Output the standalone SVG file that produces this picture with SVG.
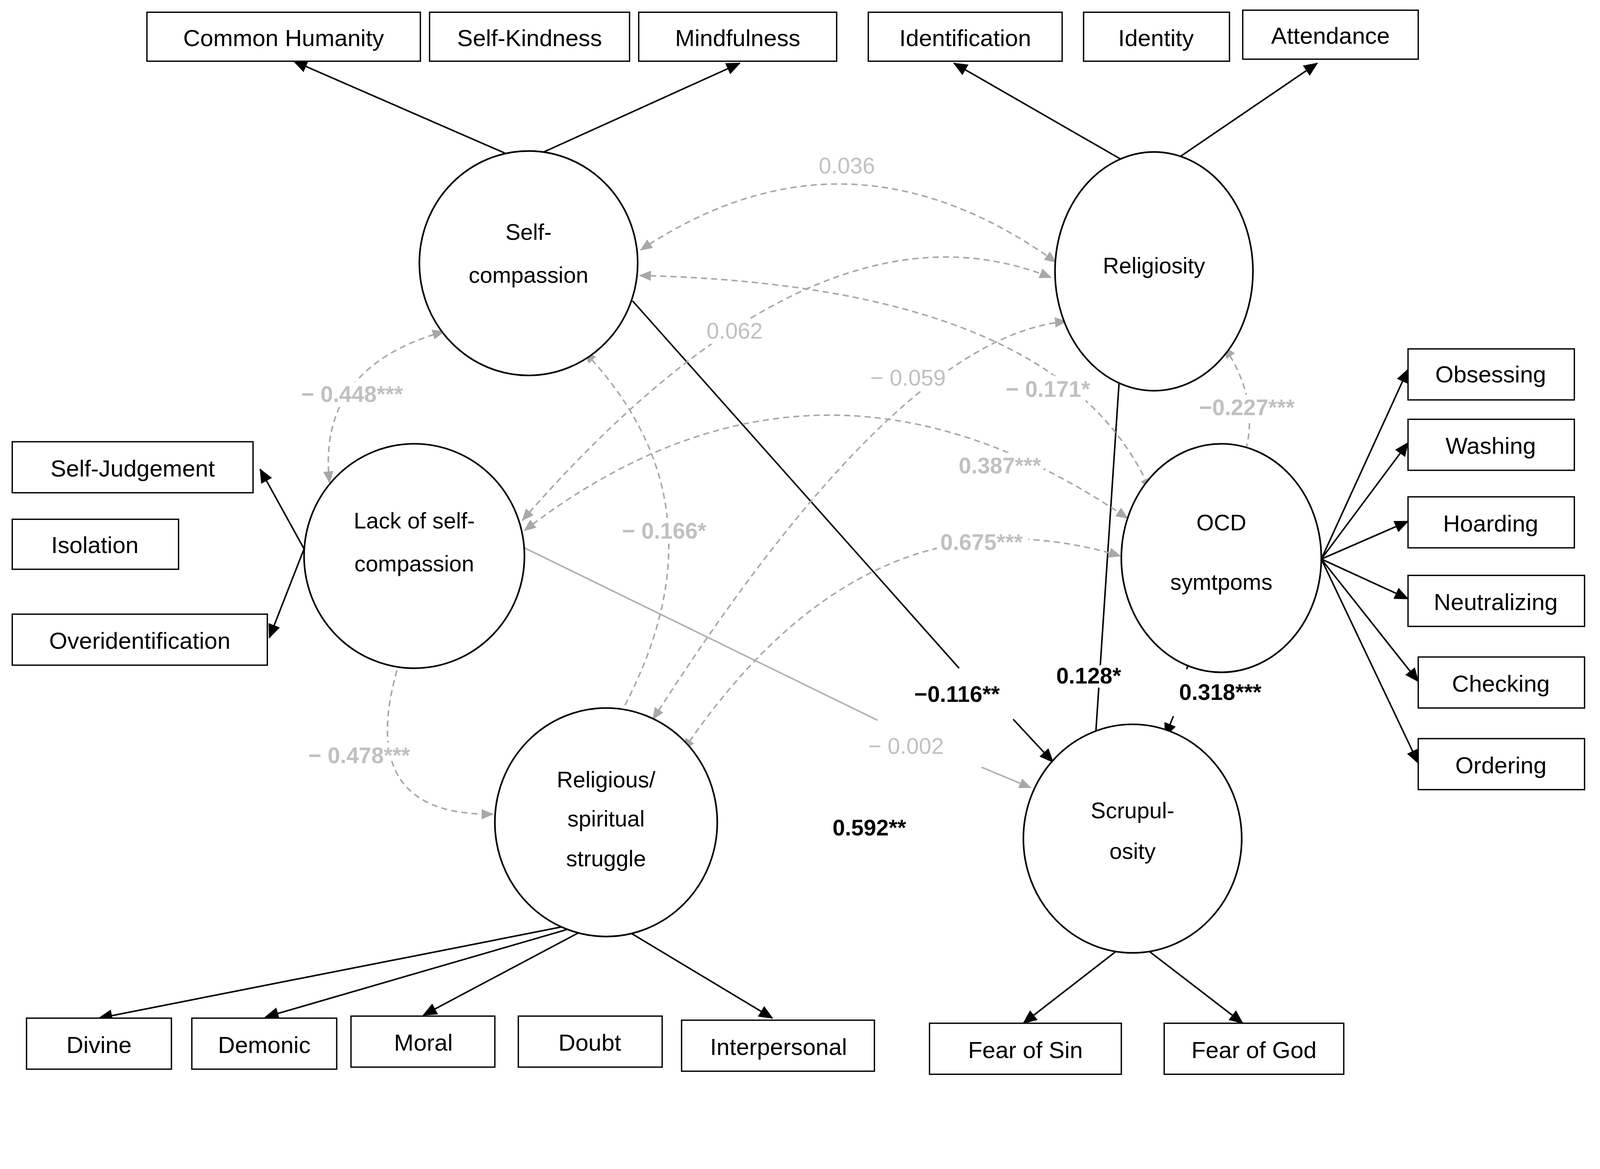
<svg xmlns="http://www.w3.org/2000/svg" width="4415" height="2993" viewBox="0 0 4415 2993">
<style>
.box{fill:#fff;stroke:#000;stroke-width:1.3}
.ell{fill:#fff;stroke:#000;stroke-width:1.6}
.bt{font-family:"Liberation Sans",Arial,sans-serif;font-size:23px;fill:#000;text-anchor:middle}
.et{font-family:"Liberation Sans",Arial,sans-serif;font-size:22px;fill:#000;text-anchor:middle}
.sol{fill:none;stroke:#000;stroke-width:1.5}
.gsol{fill:none;stroke:#b0b0b0;stroke-width:1.5}
.dash{fill:none;stroke:#a8a8a8;stroke-width:1.5;stroke-dasharray:6 4}
.lg{font-family:"Liberation Sans",Arial,sans-serif;font-size:22px;fill:#c0c0c0;text-anchor:middle;stroke:#fff;stroke-width:10;paint-order:stroke}
.lgb{font-weight:bold}
.lk{font-family:"Liberation Sans",Arial,sans-serif;font-size:22px;font-weight:bold;fill:#000;text-anchor:middle;stroke:#fff;stroke-width:8;paint-order:stroke}
</style>
<defs>
<marker id="ab" markerUnits="userSpaceOnUse" markerWidth="14" markerHeight="12" refX="13" refY="6" orient="auto-start-reverse"><path d="M0,0 L14,6 L0,12 z" fill="#000"/></marker>
<marker id="ag" markerUnits="userSpaceOnUse" markerWidth="12" markerHeight="10" refX="11" refY="5" orient="auto-start-reverse"><path d="M0,0 L12,5 L0,10 z" fill="#a8a8a8"/></marker>
</defs>
<rect width="4415" height="2993" fill="#fff"/>
<g transform="scale(2.612)">
<g id="connectors">
<path class="sol" marker-end="url(#ab)" d="M513,158 L288,60"/>
<path class="sol" marker-end="url(#ab)" d="M513,158 L725,62"/>
<path class="sol" marker-end="url(#ab)" d="M1128,173 L935,62"/>
<path class="sol" marker-end="url(#ab)" d="M1128,173 L1291,62"/>
<path class="sol" marker-end="url(#ab)" d="M298,538 L255,460"/>
<path class="sol" marker-end="url(#ab)" d="M298,538 L264,625"/>
<path class="sol" marker-end="url(#ab)" d="M1295,548 L1380,362"/>
<path class="sol" marker-end="url(#ab)" d="M1295,548 L1380,434"/>
<path class="sol" marker-end="url(#ab)" d="M1295,548 L1380,511"/>
<path class="sol" marker-end="url(#ab)" d="M1295,548 L1380,587"/>
<path class="sol" marker-end="url(#ab)" d="M1295,548 L1390,668"/>
<path class="sol" marker-end="url(#ab)" d="M1295,548 L1390,748"/>
<path class="sol" marker-end="url(#ab)" d="M594,900 L97,998"/>
<path class="sol" marker-end="url(#ab)" d="M594,900 L260,997"/>
<path class="sol" marker-end="url(#ab)" d="M594,900 L415,995"/>
<path class="sol" marker-end="url(#ab)" d="M594,900 L757,998"/>
<path class="sol" marker-end="url(#ab)" d="M1110,920 L1003,1003"/>
<path class="sol" marker-end="url(#ab)" d="M1110,920 L1218,1003"/>
<path class="sol" d="M620,295 L940,655"/>
<path class="sol" marker-end="url(#ab)" d="M993,705 L1032,747"/>
<path class="sol" marker-end="url(#ab)" d="M1098,357 L1073,733"/>
<path class="sol" d="M1169,638 L1163,656"/>
<path class="sol" marker-end="url(#ab)" d="M1150,702 L1142,722"/>
<path class="gsol" d="M514,537 L860,706"/>
<path class="gsol" marker-end="url(#ag)" d="M962,752 L1010,772"/>
<path class="dash" marker-start="url(#ag)" marker-end="url(#ag)" d="M628,245 Q830,110 1035,257"/>
<path class="dash" marker-start="url(#ag)" marker-end="url(#ag)" d="M627,270 Q1040,280 1127,480"/>
<path class="dash" marker-start="url(#ag)" marker-end="url(#ag)" d="M512,510 Q800,180 1030,272"/>
<path class="dash" marker-start="url(#ag)" marker-end="url(#ag)" d="M640,705 Q880,330 1045,315"/>
<path class="dash" marker-start="url(#ag)" marker-end="url(#ag)" d="M573,345 Q720,500 605,705"/>
<path class="dash" marker-start="url(#ag)" marker-end="url(#ag)" d="M514,520 Q800,300 1105,508"/>
<path class="dash" marker-start="url(#ag)" marker-end="url(#ag)" d="M670,735 Q850,470 1098,545"/>
<path class="dash" marker-start="url(#ag)" marker-end="url(#ag)" d="M435,325 Q310,360 323,473"/>
<path class="dash" marker-start="url(#ag)" marker-end="url(#ag)" d="M395,638 Q340,800 483,798"/>
<path class="dash" marker-start="url(#ag)" marker-end="url(#ag)" d="M1200,340 Q1240,400 1215,458"/>
</g>
<g id="labels">
<text class="lg" x="830" y="170">0.036</text>
<text class="lg" x="720" y="332">0.062</text>
<text class="lg" x="890" y="378">− 0.059</text>
<text class="lg lgb" x="1027" y="389">− 0.171*</text>
<text class="lg lgb" x="1222" y="407">−0.227***</text>
<text class="lg lgb" x="345" y="394">− 0.448***</text>
<text class="lg lgb" x="980" y="464">0.387***</text>
<text class="lg lgb" x="651" y="528">− 0.166*</text>
<text class="lg lgb" x="962" y="539">0.675***</text>
<text class="lg lgb" x="352" y="748">− 0.478***</text>
<text class="lg" x="888" y="739">− 0.002</text>
<text class="lk" x="938" y="688">−0.116**</text>
<text class="lk" x="1067" y="670">0.128*</text>
<text class="lk" x="1196" y="686">0.318***</text>
<text class="lk" x="852" y="819">0.592**</text>
</g>
<g id="self-compassion"><ellipse class="ell" cx="518" cy="258" rx="107" ry="110"/><text class="et" x="518" y="235">Self-</text><text class="et" x="518" y="277">compassion</text></g>
<g id="religiosity"><ellipse class="ell" cx="1131" cy="266" rx="97" ry="117"/><text class="et" x="1131" y="268">Religiosity</text></g>
<g id="lack-self-compassion"><ellipse class="ell" cx="406" cy="545" rx="108" ry="110"/><text class="et" x="406" y="518">Lack of self-</text><text class="et" x="406" y="560">compassion</text></g>
<g id="ocd"><ellipse class="ell" cx="1197" cy="547" rx="98" ry="112"/><text class="et" x="1197" y="520">OCD</text><text class="et" x="1197" y="578">symtpoms</text></g>
<g id="struggle"><ellipse class="ell" cx="594" cy="806" rx="109" ry="112"/><text class="et" x="594" y="772">Religious/</text><text class="et" x="594" y="810">spiritual</text><text class="et" x="594" y="849">struggle</text></g>
<g id="scrupulosity"><ellipse class="ell" cx="1110" cy="822" rx="107" ry="112"/><text class="et" x="1110" y="802">Scrupul-</text><text class="et" x="1110" y="842">osity</text></g>
<g id="box-common-humanity"><rect class="box" x="144" y="12" width="268" height="48"/><text class="bt" x="278" y="45">Common Humanity</text></g>
<g id="box-self-kindness"><rect class="box" x="421" y="12" width="196" height="48"/><text class="bt" x="519" y="45">Self-Kindness</text></g>
<g id="box-mindfulness"><rect class="box" x="626" y="12" width="194" height="48"/><text class="bt" x="723" y="45">Mindfulness</text></g>
<g id="box-identification"><rect class="box" x="851" y="12" width="190" height="48"/><text class="bt" x="946" y="45">Identification</text></g>
<g id="box-identity"><rect class="box" x="1062" y="12" width="143" height="48"/><text class="bt" x="1133" y="45">Identity</text></g>
<g id="box-attendance"><rect class="box" x="1218" y="10" width="172" height="48"/><text class="bt" x="1304" y="43">Attendance</text></g>
<g id="box-self-judgement"><rect class="box" x="12" y="433" width="236" height="50"/><text class="bt" x="130" y="467">Self-Judgement</text></g>
<g id="box-isolation"><rect class="box" x="12" y="509" width="163" height="49"/><text class="bt" x="93" y="542">Isolation</text></g>
<g id="box-overidentification"><rect class="box" x="12" y="602" width="250" height="50"/><text class="bt" x="137" y="636">Overidentification</text></g>
<g id="box-obsessing"><rect class="box" x="1380" y="342" width="163" height="50"/><text class="bt" x="1461" y="375">Obsessing</text></g>
<g id="box-washing"><rect class="box" x="1380" y="411" width="163" height="50"/><text class="bt" x="1461" y="445">Washing</text></g>
<g id="box-hoarding"><rect class="box" x="1380" y="487" width="163" height="50"/><text class="bt" x="1461" y="521">Hoarding</text></g>
<g id="box-neutralizing"><rect class="box" x="1380" y="564" width="173" height="50"/><text class="bt" x="1466" y="598">Neutralizing</text></g>
<g id="box-checking"><rect class="box" x="1390" y="644" width="163" height="50"/><text class="bt" x="1471" y="678">Checking</text></g>
<g id="box-ordering"><rect class="box" x="1390" y="724" width="163" height="50"/><text class="bt" x="1471" y="758">Ordering</text></g>
<g id="box-divine"><rect class="box" x="26" y="998" width="142" height="50"/><text class="bt" x="97" y="1032">Divine</text></g>
<g id="box-demonic"><rect class="box" x="188" y="998" width="142" height="50"/><text class="bt" x="259" y="1032">Demonic</text></g>
<g id="box-moral"><rect class="box" x="344" y="996" width="141" height="50"/><text class="bt" x="415" y="1030">Moral</text></g>
<g id="box-doubt"><rect class="box" x="508" y="996" width="141" height="50"/><text class="bt" x="578" y="1030">Doubt</text></g>
<g id="box-interpersonal"><rect class="box" x="668" y="1000" width="189" height="50"/><text class="bt" x="763" y="1034">Interpersonal</text></g>
<g id="box-fear-of-sin"><rect class="box" x="911" y="1003" width="188" height="50"/><text class="bt" x="1005" y="1037">Fear of Sin</text></g>
<g id="box-fear-of-god"><rect class="box" x="1141" y="1003" width="176" height="50"/><text class="bt" x="1229" y="1037">Fear of God</text></g>
</g>
</svg>
